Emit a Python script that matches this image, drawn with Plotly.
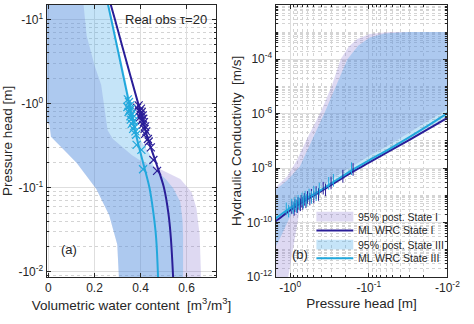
import numpy as np
import plotly.graph_objects as go

# ---------------- panel (a): water retention (x = theta, y = log10|h|) ----------------
wrc_logh = [1.3, 1.0, 0.5, 0.0, -0.4, -0.7, -1.0, -1.3, -1.6, -2.2]
ml_theta_I = [0.258, 0.289, 0.339, 0.390, 0.430, 0.467, 0.502, 0.521, 0.532, 0.544]
ml_theta_III = [0.249, 0.273, 0.312, 0.351, 0.383, 0.411, 0.439, 0.456, 0.468, 0.478]

bandI_up_logh = [1.3, 0.806, 0.457, 0.224, -0.047, -0.318, -0.42, -0.51, -0.61, -0.686, -0.764, -0.895, -1.055, -1.244, -1.558, -2.2]
bandI_up_theta = [0.148, 0.166, 0.200, 0.229, 0.243, 0.257, 0.280, 0.320, 0.362, 0.404, 0.475, 0.573, 0.622, 0.643, 0.657, 0.665]
bandIII_up_logh = [1.3, 1.0, 0.5, 0.0, -0.2, -0.4, -0.6, -0.78, -0.9, -1.01, -1.17, -1.4, -1.56, -2.2]
bandIII_up_theta = [0.252, 0.277, 0.318, 0.357, 0.373, 0.392, 0.44, 0.462, 0.51, 0.543, 0.573, 0.583, 0.585, 0.585]
band_lo_logh = [-2.2, -2.06, -1.674, -1.326, -1.015, -0.706, -0.547, -0.395, -0.244, -0.15, 1.3]
band_lo_theta = [0.306, 0.306, 0.299, 0.264, 0.208, 0.123, 0.067, 0.011, 0.004, -0.05, -0.05]

obsI_logh = [-0.02, -0.05, -0.06, -0.09, -0.10, -0.13, -0.14, -0.16, -0.18, -0.20, -0.22, -0.25, -0.27, -0.30, -0.33, -0.36, -0.42, -0.45, -0.52, -0.67, -0.80]
obsI_theta = [0.392, 0.385, 0.402, 0.395, 0.405, 0.400, 0.410, 0.398, 0.412, 0.405, 0.415, 0.410, 0.420, 0.418, 0.425, 0.420, 0.432, 0.436, 0.445, 0.456, 0.472]
obsIII_logh = [0.05, 0.02, -0.02, -0.04, -0.06, -0.08, -0.10, -0.12, -0.15, -0.17, -0.19, -0.21, -0.24, -0.27, -0.30, -0.33, -0.37, -0.49, -0.55, -0.78]
obsIII_theta = [0.345, 0.350, 0.355, 0.343, 0.360, 0.352, 0.348, 0.362, 0.356, 0.365, 0.358, 0.370, 0.362, 0.372, 0.368, 0.378, 0.381, 0.383, 0.404, 0.411]

# ---------------- panel (b): conductivity (x = log10|h|, y = log10 K) ----------------
mlK_logh = [0.284, 0.185, -0.025, -0.185, -0.395, -0.605, -0.802, -1.012, -1.259, -1.506, -1.753, -2.0, -2.062]
mlK_III = [-10.05, -9.85, -9.42, -9.15, -8.80, -8.41, -8.05, -7.70, -7.30, -6.88, -6.44, -5.98, -5.87]
mlK_I = [-10.15, -9.95, -9.50, -9.20, -8.85, -8.47, -8.12, -7.78, -7.38, -6.98, -6.57, -6.15, -6.05]

bandKI_up_logh = [0.284, 0.185, 0.037, -0.086, -0.235, -0.395, -0.531, -0.642, -0.741, -0.852, -1.012, -1.259, -1.506, -2.062]
bandKI_up_logK = [-8.85, -8.7, -8.3, -7.7, -6.8, -5.9, -4.95, -4.0, -3.55, -3.25, -3.07, -3.0, -3.0, -3.0]
bandKI_lo_logh = [0.284, 0.185, 0.099, 0.025, -0.025, -0.074, -0.123, -0.173, -0.395, -0.605, -0.802, -1.012, -1.259, -1.506, -1.753, -2.0, -2.062]
bandKI_lo_logK = [-13.5, -13.0, -12.6, -12.0, -11.2, -10.3, -9.5, -9.0, -8.65, -8.26, -7.90, -7.55, -7.15, -6.73, -6.29, -5.83, -5.72]

bandKIII_up_logh = [0.284, 0.185, 0.037, -0.123, -0.272, -0.432, -0.580, -0.728, -0.864, -1.012, -1.198, -1.506, -2.062]
bandKIII_up_logK = [-8.95, -8.8, -8.45, -7.94, -7.0, -6.0, -5.0, -4.0, -3.5, -3.2, -3.05, -3.0, -3.0]
bandKIII_lo_logh = [0.284, 0.185, 0.099, 0.012, -0.062, -0.148, -0.395, -0.605, -0.802, -1.012, -1.259, -1.506, -1.753, -2.0, -2.062]
bandKIII_lo_logK = [-11.2, -10.9, -10.4, -9.85, -9.5, -9.28, -8.85, -8.47, -8.12, -7.78, -7.38, -6.98, -6.57, -6.15, -6.05]

obsKI_logK = [-9.45, -9.52, -9.38, -9.42, -9.30, -9.35, -9.22, -9.30, -9.15, -9.24, -9.08, -9.14, -9.00, -9.06, -8.90, -8.97, -8.74, -8.80, -8.55, -8.30, -8.05]
obsKIII_logK = [-9.50, -9.58, -9.36, -9.46, -9.30, -9.40, -9.22, -9.32, -9.14, -9.24, -9.07, -9.18, -8.99, -9.08, -8.89, -8.98, -8.77, -8.56, -8.45, -8.02]

# tick labels
a_xticks = [0, 0.2, 0.4, 0.6]
a_xticktext = ['0', '0.2', '0.4', '0.6']
a_yticks = [-2, -1, 0, 1]
a_yticktext = ['-10<sup>-2</sup>', '-10<sup>-1</sup>', '-10<sup>0</sup>', '-10<sup>1</sup>']
b_xticks = [0, -1, -2]
b_xticktext = ['-10<sup>0</sup>', '-10<sup>-1</sup>', '-10<sup>-2</sup>']
b_yexp = [-12, -10, -8, -6, -4, -2]
b_yticktext = ['10<sup>%d</sup>' % e for e in b_yexp]

legend_names = ['95% post. State I', 'ML WRC State I', '95% post. State III', 'ML WRC State III']

PURPLE_FILL = 'rgba(122,104,202,0.25)'
CYAN_FILL = 'rgba(55,162,230,0.29)'
DARK = '#2a1e98'
CYAN = '#22a8dc'
FONT = 'Liberation Sans, Arial, Helvetica, sans-serif'
TXT = '#262626'

def tenpow(a):
    return list(np.power(10.0, np.array(a, dtype=float)))

fig = go.Figure()

# ----- panel (a) -----
fig.add_trace(go.Scatter(x=bandI_up_theta + band_lo_theta, y=bandI_up_logh + band_lo_logh,
                         fill='toself', fillcolor=PURPLE_FILL, line=dict(width=0), mode='lines',
                         showlegend=False, xaxis='x', yaxis='y', hoverinfo='skip'))
fig.add_trace(go.Scatter(x=bandIII_up_theta + band_lo_theta, y=bandIII_up_logh + band_lo_logh,
                         fill='toself', fillcolor=CYAN_FILL, line=dict(width=0), mode='lines',
                         showlegend=False, xaxis='x', yaxis='y', hoverinfo='skip'))
fig.add_trace(go.Scatter(x=ml_theta_I, y=wrc_logh, mode='lines', line=dict(color=DARK, width=2, shape='spline'),
                         showlegend=False, xaxis='x', yaxis='y'))
fig.add_trace(go.Scatter(x=ml_theta_III, y=wrc_logh, mode='lines', line=dict(color=CYAN, width=2, shape='spline'),
                         showlegend=False, xaxis='x', yaxis='y'))
fig.add_trace(go.Scatter(x=obsI_theta, y=obsI_logh, mode='markers',
                         marker=dict(symbol='x-thin', size=8, line=dict(color=DARK, width=1.2)),
                         showlegend=False, xaxis='x', yaxis='y'))
fig.add_trace(go.Scatter(x=obsIII_theta, y=obsIII_logh, mode='markers',
                         marker=dict(symbol='x-thin', size=8, line=dict(color=CYAN, width=1.2)),
                         showlegend=False, xaxis='x', yaxis='y'))

# ----- panel (b) -----
fig.add_trace(go.Scatter(x=bandKI_up_logh + bandKI_lo_logh[::-1], y=tenpow(bandKI_up_logK + bandKI_lo_logK[::-1]),
                         fill='toself', fillcolor=PURPLE_FILL, line=dict(width=0), mode='lines',
                         name=legend_names[0], showlegend=False, xaxis='x2', yaxis='y2', hoverinfo='skip'))
fig.add_trace(go.Scatter(x=bandKIII_up_logh + bandKIII_lo_logh[::-1], y=tenpow(bandKIII_up_logK + bandKIII_lo_logK[::-1]),
                         fill='toself', fillcolor=CYAN_FILL, line=dict(width=0), mode='lines',
                         name=legend_names[2], showlegend=False, xaxis='x2', yaxis='y2', hoverinfo='skip'))
fig.add_trace(go.Scatter(x=mlK_logh, y=tenpow(mlK_I), mode='lines', line=dict(color=DARK, width=2, shape='spline'),
                         name=legend_names[1], showlegend=False, xaxis='x2', yaxis='y2'))
fig.add_trace(go.Scatter(x=mlK_logh, y=tenpow(mlK_III), mode='lines', line=dict(color=CYAN, width=2, shape='spline'),
                         name=legend_names[3], showlegend=False, xaxis='x2', yaxis='y2'))
fig.add_trace(go.Scatter(x=obsI_logh, y=tenpow(obsKI_logK), mode='markers',
                         marker=dict(symbol='line-ns', size=9, line=dict(color=DARK, width=1)),
                         showlegend=False, xaxis='x2', yaxis='y2'))
fig.add_trace(go.Scatter(x=obsIII_logh, y=tenpow(obsKIII_logK), mode='markers',
                         marker=dict(symbol='line-ns', size=9, line=dict(color=CYAN, width=1)),
                         showlegend=False, xaxis='x2', yaxis='y2'))

# minor grid positions
a_minor = [float(np.log10(k * 10.0 ** n)) for n in range(-3, 2) for k in range(2, 10)]
b_xminor = [float(np.log10(k * 10.0 ** n)) for n in range(-3, 1) for k in range(2, 10)]
b_yminor = [k * 10.0 ** n for n in range(-13, -1) for k in range(1, 10)
            if not (k == 1 and n in b_yexp)]

GRID = '#dedede'
MGRID = '#d4d4d4'
common = dict(showline=True, linecolor=TXT, linewidth=1, mirror='allticks', ticks='inside', ticklen=4,
              tickcolor=TXT, zeroline=False, showgrid=True, gridcolor=GRID, gridwidth=1,
              tickfont=dict(family=FONT, size=12, color=TXT))
minor_common = dict(tickmode='array', ticks='inside', ticklen=2, tickcolor=TXT,
                    showgrid=True, gridcolor=MGRID, griddash='dot', gridwidth=1)
title_font = dict(family=FONT, size=13.5, color=TXT)

# manual compact legend (paper coords), rows as in the reference
def px(x):
    return x / 474.0

def py(y):
    return (324.0 - y) / 324.0

leg_rows = [221.5, 235.5, 250.0, 264.0]
leg_styles = [('patch', PURPLE_FILL), ('line', DARK), ('patch', CYAN_FILL), ('line', CYAN)]
shapes = []
annotations = []
for (kind, col), yy, name in zip(leg_styles, leg_rows, legend_names):
    if kind == 'patch':
        shapes.append(dict(type='rect', xref='paper', yref='paper', x0=px(325), x1=px(363),
                           y0=py(yy + 5), y1=py(yy - 5), fillcolor=col, line=dict(width=0), layer='above'))
    else:
        shapes.append(dict(type='line', xref='paper', yref='paper', x0=px(325), x1=px(363),
                           y0=py(yy), y1=py(yy), line=dict(color=col, width=2), layer='above'))
    annotations.append(dict(text=name, x=px(366), y=py(yy), xref='paper', yref='paper', showarrow=False,
                            xanchor='left', yanchor='middle', font=dict(family=FONT, size=10.5, color=TXT)))

annotations += [
    dict(text='Real obs \u03c4=20', x=px(170), y=py(20), xref='paper', yref='paper',
         showarrow=False, font=dict(family=FONT, size=13, color=TXT), xanchor='center', yanchor='middle'),
    dict(text='(a)', x=px(70), y=py(255), xref='paper', yref='paper',
         showarrow=False, font=dict(family=FONT, size=13, color=TXT), xanchor='center', yanchor='middle'),
    dict(text='(b)', x=px(308), y=py(260), xref='paper', yref='paper',
         showarrow=False, font=dict(family=FONT, size=13, color=TXT), xanchor='center', yanchor='middle'),
]

fig.update_layout(
    width=474, height=324, margin=dict(l=0, r=0, t=0, b=0),
    paper_bgcolor='white', plot_bgcolor='white', showlegend=False,
    font=dict(family=FONT, color=TXT),
    xaxis=dict(domain=[px(47), px(222)], range=[-0.008, 0.73], tickmode='array',
               tickvals=a_xticks, ticktext=a_xticktext, anchor='y',
               title=dict(text='Volumetric water content\u00a0\u00a0[m<sup>3</sup>/m<sup>3</sup>]',
                          font=title_font, standoff=4), **common),
    yaxis=dict(domain=[41 / 324, 319 / 324], range=[-2.06, 1.174], tickmode='array',
               tickvals=a_yticks, ticktext=a_yticktext, anchor='x',
               minor=dict(tickvals=a_minor, **minor_common),
               title=dict(text='Pressure head [m]', font=title_font, standoff=2),
               **common),
    xaxis2=dict(domain=[px(283), px(460)], range=[0.185, -2.0], tickmode='array',
                tickvals=b_xticks, ticktext=b_xticktext, anchor='y2',
                minor=dict(tickvals=b_xminor, **minor_common),
                title=dict(text='Pressure head [m]', font=title_font, standoff=4),
                **common),
    yaxis2=dict(domain=[41 / 324, 319 / 324], type='log', range=[-12, -2], tickmode='array',
                tickvals=[10.0 ** e for e in b_yexp], ticktext=b_yticktext, anchor='x2',
                minor=dict(tickvals=b_yminor, **minor_common),
                title=dict(text='Hydraulic Conductivity\u00a0\u00a0[m/s]', font=title_font, standoff=2),
                **common),
    shapes=shapes,
    annotations=annotations,
)

fig.write_html('out.html')
